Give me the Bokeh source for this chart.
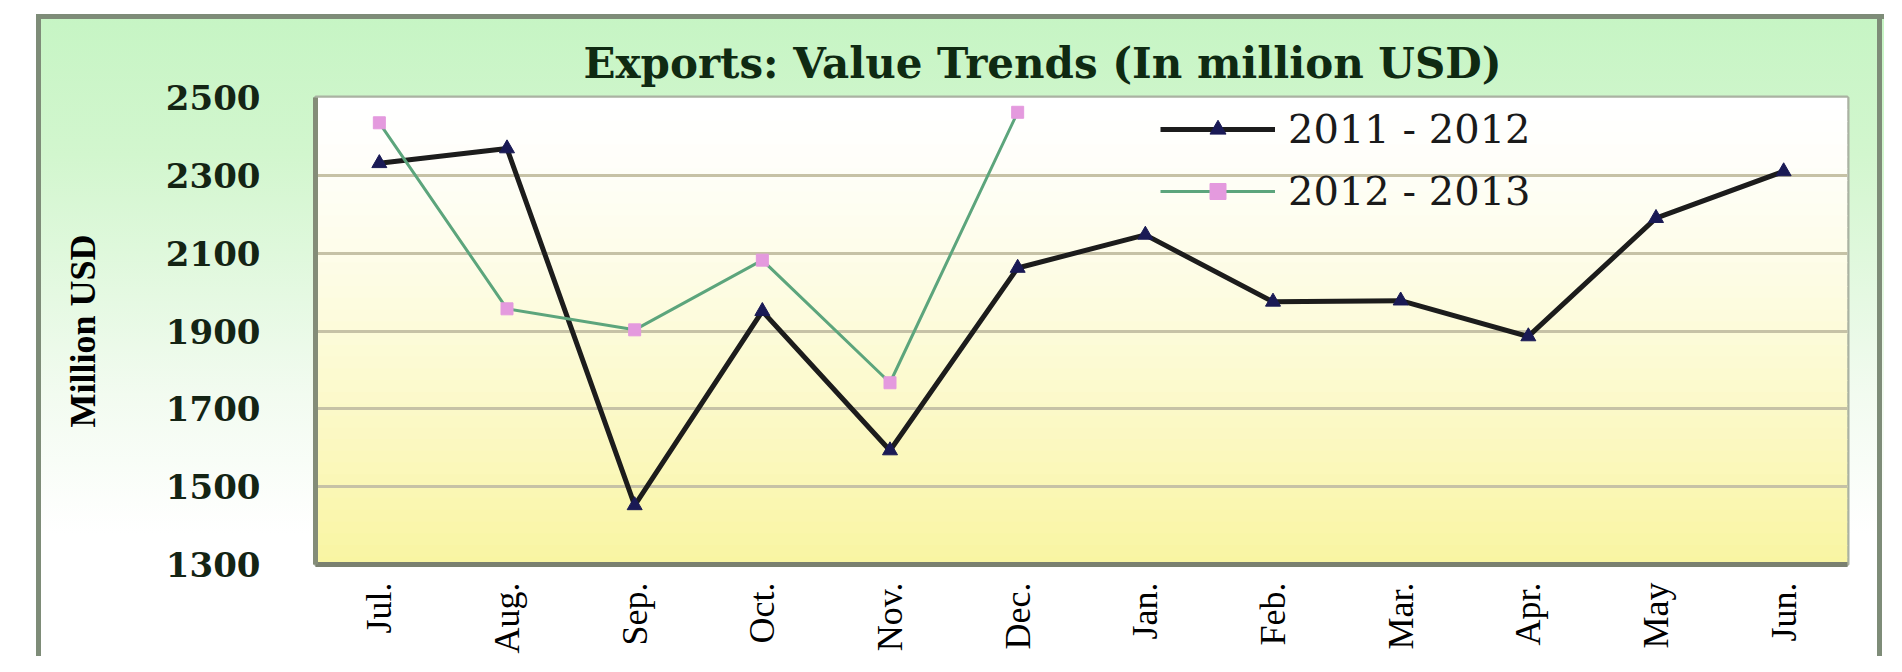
import math
from bokeh.plotting import figure
from bokeh.models import BoxAnnotation, Legend, LegendItem, FixedTicker, Range1d
from bokeh.embed import file_html
from bokeh.resources import INLINE

# ---------------- data ----------------
months = ["Jul.", "Aug.", "Sep.", "Oct.", "Nov.", "Dec.",
          "Jan.", "Feb.", "Mar.", "Apr.", "May", "Jun."]
exports_2011_12 = [2331, 2369, 1452, 1951, 1593, 2062,
                   2147, 1975, 1978, 1886, 2190, 2310]
months_2012_13 = ["Jul.", "Aug.", "Sep.", "Oct.", "Nov.", "Dec."]
exports_2012_13 = [2435, 1957, 1903, 2082, 1767, 2462]
y_ticks = [1300, 1500, 1700, 1900, 2100, 2300, 2500]

W, H = 1886, 656
FL, FR, FT, FB = 315, 1847, 97, 568   # frame box in canvas px

p = figure(x_range=months, y_range=Range1d(1300, 2500),
           width=W, height=H, output_backend="svg", toolbar_location=None,
           min_border_left=FL, min_border_right=W - FR,
           min_border_top=FT, min_border_bottom=H - FB,
           title="Exports: Value Trends (In million USD)")

p.border_fill_color = None
p.background_fill_color = None
p.outline_line_color = "#aab2a2"
p.outline_line_width = 4

# outer green panel with border, drawn as CSS background of the figure element
line_c = "linear-gradient(#7e8c78, #7e8c78)"
p.styles = {
    "background-color": "#ffffff",
    "background-image": ", ".join([
        line_c, line_c, line_c,
        "linear-gradient(to bottom, #c6f5c4 0px, #d2f6ce 140px, #f2fbf0 380px, #ffffff 520px)",
    ]),
    "background-size": "5px 100%, 1848px 5px, 5px 100%, 1848px 100%",
    "background-position": "36px 14px, 36px 14px, 1877px 14px, 36px 14px",
    "background-repeat": "no-repeat",
}

def mix(c1, c2, t):
    return "#%02x%02x%02x" % tuple(int(round(a + (b - a) * t)) for a, b in zip(c1, c2))

# frame gradient (white -> pale yellow)
n = 40
p_top, p_bot = (255, 255, 255), (249, 245, 162)
for i in range(n):
    a = FT + (FB - FT) * i / n
    b = FT + (FB - FT) * (i + 1) / n + 1
    p.add_layout(BoxAnnotation(left=FL, right=FR, top=a, bottom=b,
                               left_units="canvas", right_units="canvas",
                               top_units="canvas", bottom_units="canvas",
                               fill_color=mix(p_top, p_bot, (i / (n - 1)) ** 1.3), fill_alpha=1,
                               line_color=None, level="image"))

# title
p.title.text_font = "DejaVu Serif"
p.title.text_font_size = "42px"
p.title.text_font_style = "bold"
p.title.text_color = "#0f2a12"
p.title.align = "left"
p.title.offset = 268
p.title.standoff = 19

# grid
p.xgrid.grid_line_color = None
p.ygrid.grid_line_color = "#c6c2a6"
p.ygrid.grid_line_width = 3
p.yaxis.ticker = FixedTicker(ticks=y_ticks)

# axes
p.yaxis.axis_line_color = "#848c78"
p.yaxis.axis_line_width = 5
p.yaxis.major_tick_line_color = None
p.yaxis.minor_tick_line_color = None
p.yaxis.major_label_standoff = 49
p.yaxis.major_label_text_font = "DejaVu Serif"
p.yaxis.major_label_text_font_style = "bold"
p.yaxis.major_label_text_font_size = "34px"
p.yaxis.major_label_text_color = "#142414"
p.yaxis.axis_label = "Million USD"
p.yaxis.axis_label_text_font = "Liberation Serif"
p.yaxis.axis_label_text_font_style = "bold"
p.yaxis.axis_label_text_font_size = "36px"
p.yaxis.axis_label_text_color = "#000000"
p.yaxis.axis_label_standoff = 60

p.xaxis.axis_line_color = "#7a8070"
p.xaxis.axis_line_width = 5
p.xaxis.major_tick_line_color = None
p.xaxis.minor_tick_line_color = None
p.xaxis.major_label_orientation = math.pi / 2
p.xaxis.major_label_standoff = 12
p.xaxis.major_label_text_font = "Liberation Serif"
p.xaxis.major_label_text_font_size = "36px"
p.xaxis.major_label_text_color = "#000000"

# series
l1 = p.line(months, exports_2011_12, line_color="#1c1c1c", line_width=5)
m1 = p.scatter(months, exports_2011_12, marker="triangle", size=15,
               fill_color="#1a1a55", line_color="#1a1a55")
l2 = p.line(months_2012_13, exports_2012_13, line_color="#5ca57c", line_width=3)
m2 = p.scatter(months_2012_13, exports_2012_13, marker="square", size=12,
               fill_color="#e49ade", line_color="#e49ade")

legend = Legend(items=[LegendItem(label="2011 - 2012", renderers=[l1, m1]),
                       LegendItem(label="2012 - 2013", renderers=[l2, m2])],
                location=(845, 350), orientation="vertical",
                background_fill_alpha=0, border_line_color=None,
                glyph_width=115, glyph_height=40, label_height=40,
                label_standoff=13, spacing=16, padding=0, margin=0,
                label_text_font="DejaVu Serif", label_text_font_size="40px",
                label_text_color="#1a1a1a")
p.add_layout(legend)

open("out.html", "w").write(file_html(p, INLINE))
